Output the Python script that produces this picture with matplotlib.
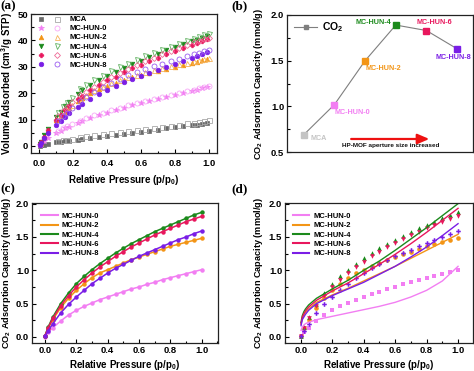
import matplotlib
matplotlib.use("Agg")
import matplotlib.pyplot as plt
from matplotlib.ticker import MultipleLocator
from matplotlib.legend_handler import HandlerTuple
from matplotlib.lines import Line2D

plt.rcParams['font.family'] = ['Liberation Sans', 'DejaVu Sans']
plt.rcParams['font.weight'] = 'bold'
plt.rcParams['axes.labelweight'] = 'bold'
plt.rcParams['mathtext.default'] = 'regular'

# ---------------- data ----------------
names = ["MCA", "MC-HUN-0", "MC-HUN-2", "MC-HUN-4", "MC-HUN-6", "MC-HUN-8"]
colors = ["#6a6a6a", "#f27ef2", "#f39516", "#1c8a1c", "#e8175d", "#7a1ee6"]
open_colors = ["#a8a8a8", "#f7a8f7", "#f5b35a", "#5fb15f", "#ee6a96", "#9a5cf0"]

# (a) N2 isotherms
x_ads = [0.005, 0.01, 0.025, 0.05, 0.1, 0.125, 0.15, 0.175, 0.225, 0.25, 0.3, 0.35, 0.4,
         0.45, 0.5, 0.55, 0.6, 0.65, 0.7, 0.75, 0.8, 0.85, 0.9, 0.93, 0.96, 0.99]
x_des = [0.11, 0.14, 0.16, 0.19, 0.24, 0.275, 0.325, 0.375, 0.425, 0.475, 0.525, 0.575,
         0.625, 0.675, 0.725, 0.775, 0.825, 0.875, 0.915, 0.945, 0.975, 1.0]
ads_mca = [0.1, 0.2, 0.5, 0.8, 1.3, 1.5, 1.8, 2.0, 2.4, 2.6, 3.0, 3.4, 3.8, 4.2, 4.6, 5.0,
           5.4, 5.8, 6.2, 6.6, 7.0, 7.4, 7.8, 8.1, 8.4, 8.8]
ads_hun0 = [0.3, 0.6, 1.8, 3.0, 5.0, 5.8, 6.6, 7.3, 8.7, 9.3, 10.5, 11.6, 12.6, 13.6, 14.5,
            15.4, 16.2, 17.0, 17.8, 18.5, 19.3, 20.0, 20.8, 21.3, 21.8, 22.4]
ads_hun2 = [0.6, 1.2, 3.5, 6.0, 10.0, 11.5, 13.0, 14.5, 17.0, 18.2, 20.0, 21.5, 22.8, 24.0,
            25.0, 26.0, 27.0, 27.8, 28.5, 29.2, 29.8, 30.5, 31.3, 31.9, 32.5, 33.0]
ads_hun4 = [0.8, 1.5, 4.0, 6.5, 11.0, 13.0, 15.0, 16.5, 19.5, 21.0, 23.0, 24.8, 26.5, 28.0,
            29.5, 31.0, 32.3, 33.6, 35.0, 36.2, 37.4, 38.5, 39.6, 40.3, 41.0, 41.8]
ads_hun6 = [0.7, 1.3, 3.5, 6.0, 10.0, 11.8, 13.5, 15.0, 17.8, 19.0, 21.0, 23.0, 24.8, 26.3,
            28.0, 29.5, 30.8, 32.2, 33.5, 34.8, 36.0, 37.2, 38.3, 39.0, 39.8, 40.5]
ads_hun8 = [0.5, 1.0, 2.8, 4.8, 8.0, 9.5, 11.0, 12.3, 14.8, 16.0, 17.8, 19.5, 21.2, 22.7,
            24.1, 25.4, 26.6, 27.7, 28.8, 29.9, 30.9, 32.0, 33.2, 34.0, 34.8, 35.5]
des_mca = [1.8, 2.1, 2.4, 2.7, 3.2, 3.6, 4.0, 4.5, 4.9, 5.3, 5.7, 6.1, 6.5, 6.9, 7.3, 7.7,
           8.1, 8.5, 8.8, 9.1, 9.4, 9.7]
des_hun0 = [5.8, 6.8, 7.4, 8.3, 9.6, 10.4, 11.6, 12.6, 13.6, 14.5, 15.4, 16.2, 17.0, 17.8,
            18.6, 19.3, 20.0, 20.7, 21.3, 21.8, 22.3, 22.8]
des_hun2 = [11.0, 12.7, 13.9, 15.5, 18.0, 19.2, 21.0, 22.5, 23.8, 25.0, 26.0, 27.0, 27.9,
            28.7, 29.5, 30.2, 30.9, 31.6, 32.2, 32.7, 33.1, 33.4]
des_hun4 = [12.5, 14.8, 16.3, 18.3, 21.5, 23.0, 24.8, 26.5, 28.2, 29.8, 31.2, 32.6, 33.9,
            35.2, 36.4, 37.6, 38.7, 39.8, 40.6, 41.3, 41.9, 42.5]
des_hun6 = [11.2, 13.2, 14.6, 16.5, 19.2, 20.5, 22.5, 24.4, 26.1, 27.7, 29.3, 30.7, 32.1,
            33.4, 34.7, 36.0, 37.2, 38.3, 39.2, 39.9, 40.5, 41.0]
des_hun8 = [9.5, 11.2, 12.4, 14.2, 17.0, 18.6, 20.6, 22.4, 24.0, 25.4, 26.7, 27.9, 29.0,
            30.1, 31.1, 32.1, 33.1, 34.0, 34.8, 35.4, 35.9, 36.3]

# (b) CO2 capacity at p/p0 = 1
capacity = [0.69, 1.02, 1.50, 1.89, 1.83, 1.63]

# (c) CO2 isotherms
x_co2 = [0.0, 0.02, 0.05, 0.1, 0.15, 0.2, 0.25, 0.3, 0.35, 0.4, 0.45, 0.5, 0.55, 0.6,
         0.65, 0.7, 0.75, 0.8, 0.85, 0.9, 0.95, 1.0]
co2_hun0 = [0.0, 0.07, 0.14, 0.24, 0.33, 0.40, 0.46, 0.51, 0.56, 0.60, 0.64, 0.68, 0.72,
            0.75, 0.79, 0.82, 0.86, 0.89, 0.92, 0.95, 0.98, 1.01]
co2_hun2 = [0.02, 0.13, 0.26, 0.44, 0.58, 0.70, 0.80, 0.89, 0.96, 1.01, 1.06, 1.11, 1.16,
            1.20, 1.24, 1.28, 1.32, 1.36, 1.39, 1.42, 1.45, 1.48]
co2_hun4 = [0.02, 0.15, 0.30, 0.50, 0.66, 0.80, 0.91, 1.01, 1.10, 1.18, 1.26, 1.33, 1.40,
            1.46, 1.52, 1.58, 1.63, 1.68, 1.73, 1.78, 1.83, 1.87]
co2_hun6 = [0.02, 0.14, 0.28, 0.47, 0.62, 0.75, 0.86, 0.96, 1.05, 1.13, 1.21, 1.28, 1.35,
            1.41, 1.47, 1.53, 1.58, 1.63, 1.68, 1.73, 1.77, 1.81]
co2_hun8 = [0.01, 0.09, 0.20, 0.36, 0.49, 0.60, 0.70, 0.80, 0.88, 0.96, 1.03, 1.09, 1.15,
            1.21, 1.26, 1.31, 1.36, 1.41, 1.46, 1.50, 1.55, 1.59]

# (d) model fits
x_fit = [0.002, 0.01, 0.02, 0.03, 0.05, 0.1, 0.2, 0.3, 0.4, 0.5, 0.6, 0.7, 0.8, 0.9, 1.0]
fit_hun0 = [0.10, 0.15, 0.18, 0.20, 0.22, 0.26, 0.31, 0.36, 0.41, 0.46, 0.52, 0.60, 0.70, 0.84, 1.06]
fit_hun2 = [0.19, 0.28, 0.33, 0.37, 0.42, 0.52, 0.63, 0.73, 0.84, 0.95, 1.06, 1.18, 1.30, 1.42, 1.54]
fit_hun4 = [0.22, 0.32, 0.38, 0.42, 0.48, 0.58, 0.72, 0.85, 1.00, 1.14, 1.30, 1.47, 1.64, 1.82, 2.00]
fit_hun6 = [0.20, 0.30, 0.35, 0.39, 0.45, 0.55, 0.69, 0.81, 0.95, 1.09, 1.24, 1.40, 1.57, 1.75, 1.93]
fit_hun8 = [0.17, 0.26, 0.30, 0.34, 0.40, 0.50, 0.62, 0.72, 0.82, 0.94, 1.06, 1.20, 1.35, 1.52, 1.70]

ylabel_co2 = "CO$_2$ Adsorption Capacity (mmol/g)"
xlabel_rp = "Relative Pressure (p/p$_0$)"

TICK = 6.8
LAB = 7.0

fig = plt.figure(figsize=(4.74, 3.71), dpi=100)


def style(ax, xmaj, xmin, ymaj, ymin, xticks=True, xpad=2):
    for s in ax.spines.values():
        s.set_linewidth(0.9)
        s.set_color("#222222")
    ax.yaxis.set_major_locator(MultipleLocator(ymaj))
    ax.yaxis.set_minor_locator(MultipleLocator(ymin))
    if xticks:
        ax.xaxis.set_major_locator(MultipleLocator(xmaj))
        ax.xaxis.set_minor_locator(MultipleLocator(xmin))
    else:
        ax.set_xticks([])
    ax.tick_params(which='both', direction='in', labelsize=TICK, width=0.8, pad=2,
                   top=False, right=False)
    ax.tick_params(axis='x', which='both', pad=xpad)
    ax.tick_params(which='major', length=3)
    ax.tick_params(which='minor', length=1.8)
    for t in ax.get_xticklabels() + ax.get_yticklabels():
        t.set_fontweight('bold')


# ---------- (a) ----------
axa = fig.add_axes([31 / 474, 1 - 153 / 371, 186 / 474, 139 / 371])
ads_all = [ads_mca, ads_hun0, ads_hun2, ads_hun4, ads_hun6, ads_hun8]
des_all = [des_mca, des_hun0, des_hun2, des_hun4, des_hun6, des_hun8]
fmark = ['s', '*', '^', 'v', 'P', 'o']
omark = ['s', 'o', '^', 'v', 'D', 'o']
handles_a = []
for i in range(6):
    h1, = axa.plot(x_ads, ads_all[i], ls='none', marker=fmark[i], ms=3.3 if fmark[i] != '*' else 4.2,
                   color=colors[i], mec=colors[i], mew=0.5)
    h2, = axa.plot(x_des, des_all[i], ls='none', marker=omark[i], ms=3.6 if omark[i] != 'D' else 3.0,
                   mfc='none', mec=open_colors[i], mew=0.6)
    handles_a.append((h1, h2))
axa.set_xlim(-0.05, 1.05)
axa.set_ylim(-2.7, 50)
style(axa, 0.2, 0.1, 10, 5, xpad=4)
axa.set_xlabel("Relative Pressure (p/p$_0$)", fontsize=LAB, fontweight='bold', labelpad=4)
axa.set_ylabel("Volume Adsorbed (cm$^3$/g STP)", fontsize=LAB, fontweight='bold', labelpad=2)
axa.legend(handles_a, names, handler_map={tuple: HandlerTuple(ndivide=None, pad=1.36)},
           loc='upper left', bbox_to_anchor=(0.035, 0.985), frameon=False,
           prop={'size': 5.5, 'weight': 'bold'}, handlelength=3.0, handletextpad=1.2,
           labelspacing=0.22, borderpad=0, borderaxespad=0)

# ---------- (b) ----------
axb = fig.add_axes([287 / 474, 1 - 152 / 371, 186 / 474, 137 / 371])
pos = list(range(1, len(names) + 1))
axb.plot(pos, capacity, color='#7f7f7f', lw=0.8, zorder=1)
bcolors = ["#c4c4c4", "#f27ef2", "#f39516", "#1c8a1c", "#e8175d", "#7a1ee6"]
for i in range(6):
    axb.plot(pos[i], capacity[i], ls='none', marker='s', ms=4.2, color=bcolors[i], zorder=3)
offsets = [(5, -3, 'left'), (0, -6, 'left'), (0, -6, 'left'), (-3, 1.5, 'right'),
           (6, 5.5, 'center'), (-3, -6.5, 'center')]
for i in range(6):
    dx, dy, ha = offsets[i]
    axb.annotate(names[i], (pos[i], capacity[i]), xytext=(dx, dy), textcoords='offset points',
                 ha=ha, va='center', fontsize=5.2, fontweight='bold', color=bcolors[i])
axb.set_xlim(0.45, 6.52)
axb.set_ylim(0.5, 2.0)
style(axb, 1, 1, 0.5, 0.25, xticks=False)
axb.set_ylabel(ylabel_co2, fontsize=6.6, fontweight='bold', labelpad=4)
leg_b = [Line2D([0], [0], color='#7f7f7f', lw=0.8, marker='s', ms=2.2)]
axb.legend(leg_b, ["CO$_2$"], loc='upper left', bbox_to_anchor=(0.04, 0.96), frameon=False,
           prop={'size': 7.5, 'weight': 'bold'}, handlelength=2.2, handletextpad=0.4,
           borderpad=0, borderaxespad=0)
axb.annotate("", xy=(0.765, 0.095), xytext=(0.345, 0.095), xycoords='axes fraction',
             arrowprops=dict(arrowstyle='-|>,head_length=0.7,head_width=0.3', color='#ee1111',
                             lw=1.6, shrinkA=0, shrinkB=0))
axb.text(0.555, 0.045, "HP-MOF aperture size increased", transform=axb.transAxes,
         ha='center', va='center', fontsize=4.6, fontweight='bold', color='#111111')

# ---------- (c) ----------
axc = fig.add_axes([32 / 474, 1 - 343 / 371, 186 / 474, 140 / 371])
co2_all = [co2_hun0, co2_hun2, co2_hun4, co2_hun6, co2_hun8]
for i in range(5):
    axc.plot(x_co2, co2_all[i], color=colors[i + 1], lw=1.1, marker='o', ms=2.2,
             label=names[i + 1])
axc.set_xlim(-0.083, 1.104)
axc.set_ylim(-0.09, 2.01)
style(axc, 0.2, 0.1, 0.5, 0.25)
axc.set_xlabel(xlabel_rp, fontsize=LAB, fontweight='bold', labelpad=2)
axc.set_ylabel(ylabel_co2, fontsize=6.6, fontweight='bold', labelpad=2)
axc.legend(loc='upper left', bbox_to_anchor=(0.05, 0.93), frameon=False,
           prop={'size': 5.5, 'weight': 'bold'}, handlelength=2.2, handletextpad=0.5,
           labelspacing=0.25, borderpad=0, borderaxespad=0)
for lh in axc.get_legend().get_lines():
    lh.set_marker('')
    lh.set_linewidth(1.5)

# ---------- (d) ----------
axd = fig.add_axes([285 / 474, 1 - 343 / 371, 188 / 474, 140 / 371])
fit_all = [fit_hun0, fit_hun2, fit_hun4, fit_hun6, fit_hun8]
dmark = ['s', 'o', '^', 'v', 'P']
for i in range(5):
    axd.plot(x_co2, co2_all[i], ls='none', marker=dmark[i], ms=3.3, color=colors[i + 1], mew=0)
for i in range(5):
    axd.plot(x_fit, fit_all[i], color=colors[i + 1], lw=1.0, label=names[i + 1])
axd.set_xlim(-0.1, 1.095)
axd.set_ylim(-0.09, 2.01)
style(axd, 0.2, 0.1, 0.5, 0.25)
axd.set_xlabel(xlabel_rp, fontsize=LAB, fontweight='bold', labelpad=2)
axd.set_ylabel(ylabel_co2, fontsize=6.6, fontweight='bold', labelpad=3)
axd.legend(loc='upper left', bbox_to_anchor=(0.04, 0.93), frameon=False,
           prop={'size': 5.5, 'weight': 'bold'}, handlelength=2.2, handletextpad=0.5,
           labelspacing=0.25, borderpad=0, borderaxespad=0)
for lh in axd.get_legend().get_lines():
    lh.set_linewidth(1.5)

# panel letters
for lab, (x, y) in zip(["(a)", "(b)", "(c)", "(d)"],
                       [(0.0, 1.0), (0.488, 1.0), (0.0, 0.505), (0.488, 0.505)]):
    fig.text(x, y, lab, fontsize=9.5, fontweight='bold', family='Liberation Serif',
             ha='left', va='top')

fig.savefig("out.png", dpi=100)
